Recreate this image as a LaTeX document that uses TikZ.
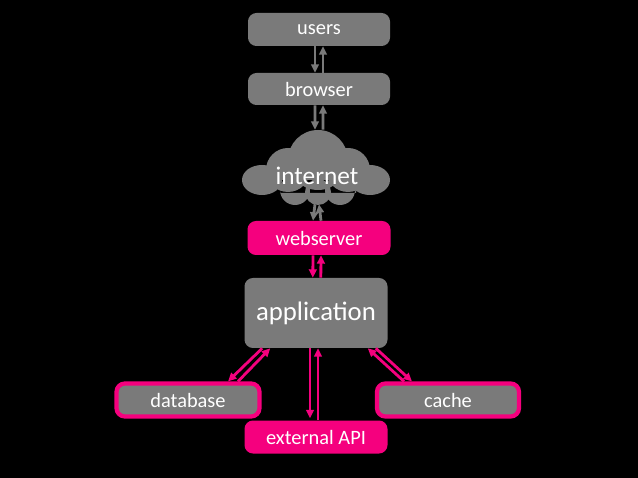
\documentclass[tikz,border=0pt]{standalone}
\usepackage{fontspec}
\setmainfont{Carlito}
\usetikzlibrary{arrows.meta}
\definecolor{gr}{HTML}{7A7A7A}
\definecolor{pk}{HTML}{F5007E}
\begin{document}
\begin{tikzpicture}[x=0.025cm,y=-0.025cm,
 box/.style={rounded corners=6pt,fill=gr,text=white,inner sep=0pt},
 pbox/.style={box,fill=pk},
 obox/.style={box,draw=pk,line width=3pt},
 ga/.style={-{Triangle[length=6pt,width=5.5pt]},gr,line width=2pt},
 pa/.style={-{Triangle[length=6pt,width=5.5pt]},pk,line width=2pt},
 sm/.style={font=\fontsize{14.5}{16}\selectfont}]
\fill[black] (0,0) rectangle (638,478);
\node[box,sm,minimum width=142*0.025cm,minimum height=33*0.025cm] (users) at (319,29.5) {users};
\node[box,sm,minimum width=142*0.025cm,minimum height=32*0.025cm] (browser) at (319,89) {browser};
\fill[gr] (318,160) circle (30) (288,170) circle (22) (348,170) circle (22)
 (262,180) ellipse (20 and 15) (370,180) ellipse (20 and 15) (295,190) circle (15) (340,190) circle (15) (318,192) circle (13)
 (280,180) rectangle (356,193);
\node[text=white,font=\fontsize{18}{20}\selectfont,minimum width=142*0.025cm,minimum height=60*0.025cm] (internet) at (317,176) {internet};
\node[pbox,sm,minimum width=143*0.025cm,minimum height=34*0.025cm] (web) at (319,238) {webserver};
\node[box,font=\fontsize{19}{20}\selectfont,minimum width=143*0.025cm,minimum height=70*0.025cm] (app) at (316,313) {application};
\node[obox,sm,minimum width=143*0.025cm,minimum height=33*0.025cm] (db) at (188,400) {database};
\node[obox,sm,minimum width=142*0.025cm,minimum height=33*0.025cm] (cache) at (448,400) {cache};
\node[pbox,sm,minimum width=143*0.025cm,minimum height=33*0.025cm] (api) at (316,437) {external API};
\draw[ga] ([xshift=-0.1cm]users.south) -- ([xshift=-0.1cm]browser.north);
\draw[ga] ([xshift=0.1cm]browser.north) -- ([xshift=0.1cm]users.south);
\draw[ga] ([xshift=-0.1cm]browser.south) -- ([xshift=-0.05cm,yshift=0.4cm]internet.north);
\draw[ga] ([xshift=0.15cm,yshift=0.4cm]internet.north) -- ([xshift=0.1cm]browser.south);
\draw[ga] ([xshift=-0.05cm,yshift=0.05cm]internet.south) -- ([xshift=-0.15cm]web.north);
\draw[ga] ([xshift=0.05cm]web.north) -- ([xshift=0.05cm,yshift=0.05cm]internet.south);
\draw[pa] ([xshift=-0.15cm]web.south) -- ([xshift=-0.08cm]app.north);
\draw[pa] ([xshift=-0.08cm+0.2cm]app.north) -- ([xshift=0.05cm]web.south);
\draw[pa] ([xshift=0.45cm]app.south west) -- ([xshift=1cm]db.north);
\draw[pa] ([xshift=1.25cm]db.north) -- ([xshift=0.65cm]app.south west);
\draw[pa] ([xshift=-0.3cm]app.south east) -- ([xshift=-0.9cm]cache.north);
\draw[pa] ([xshift=-1.1cm]cache.north) -- ([xshift=-0.5cm]app.south east);
\draw[pa] ([xshift=-0.15cm]app.south) -- ([xshift=-0.15cm,yshift=0.05cm]api.north);
\draw[pa] ([xshift=0.05cm]api.north) -- ([xshift=0.05cm]app.south);
\end{tikzpicture}
\end{document}
